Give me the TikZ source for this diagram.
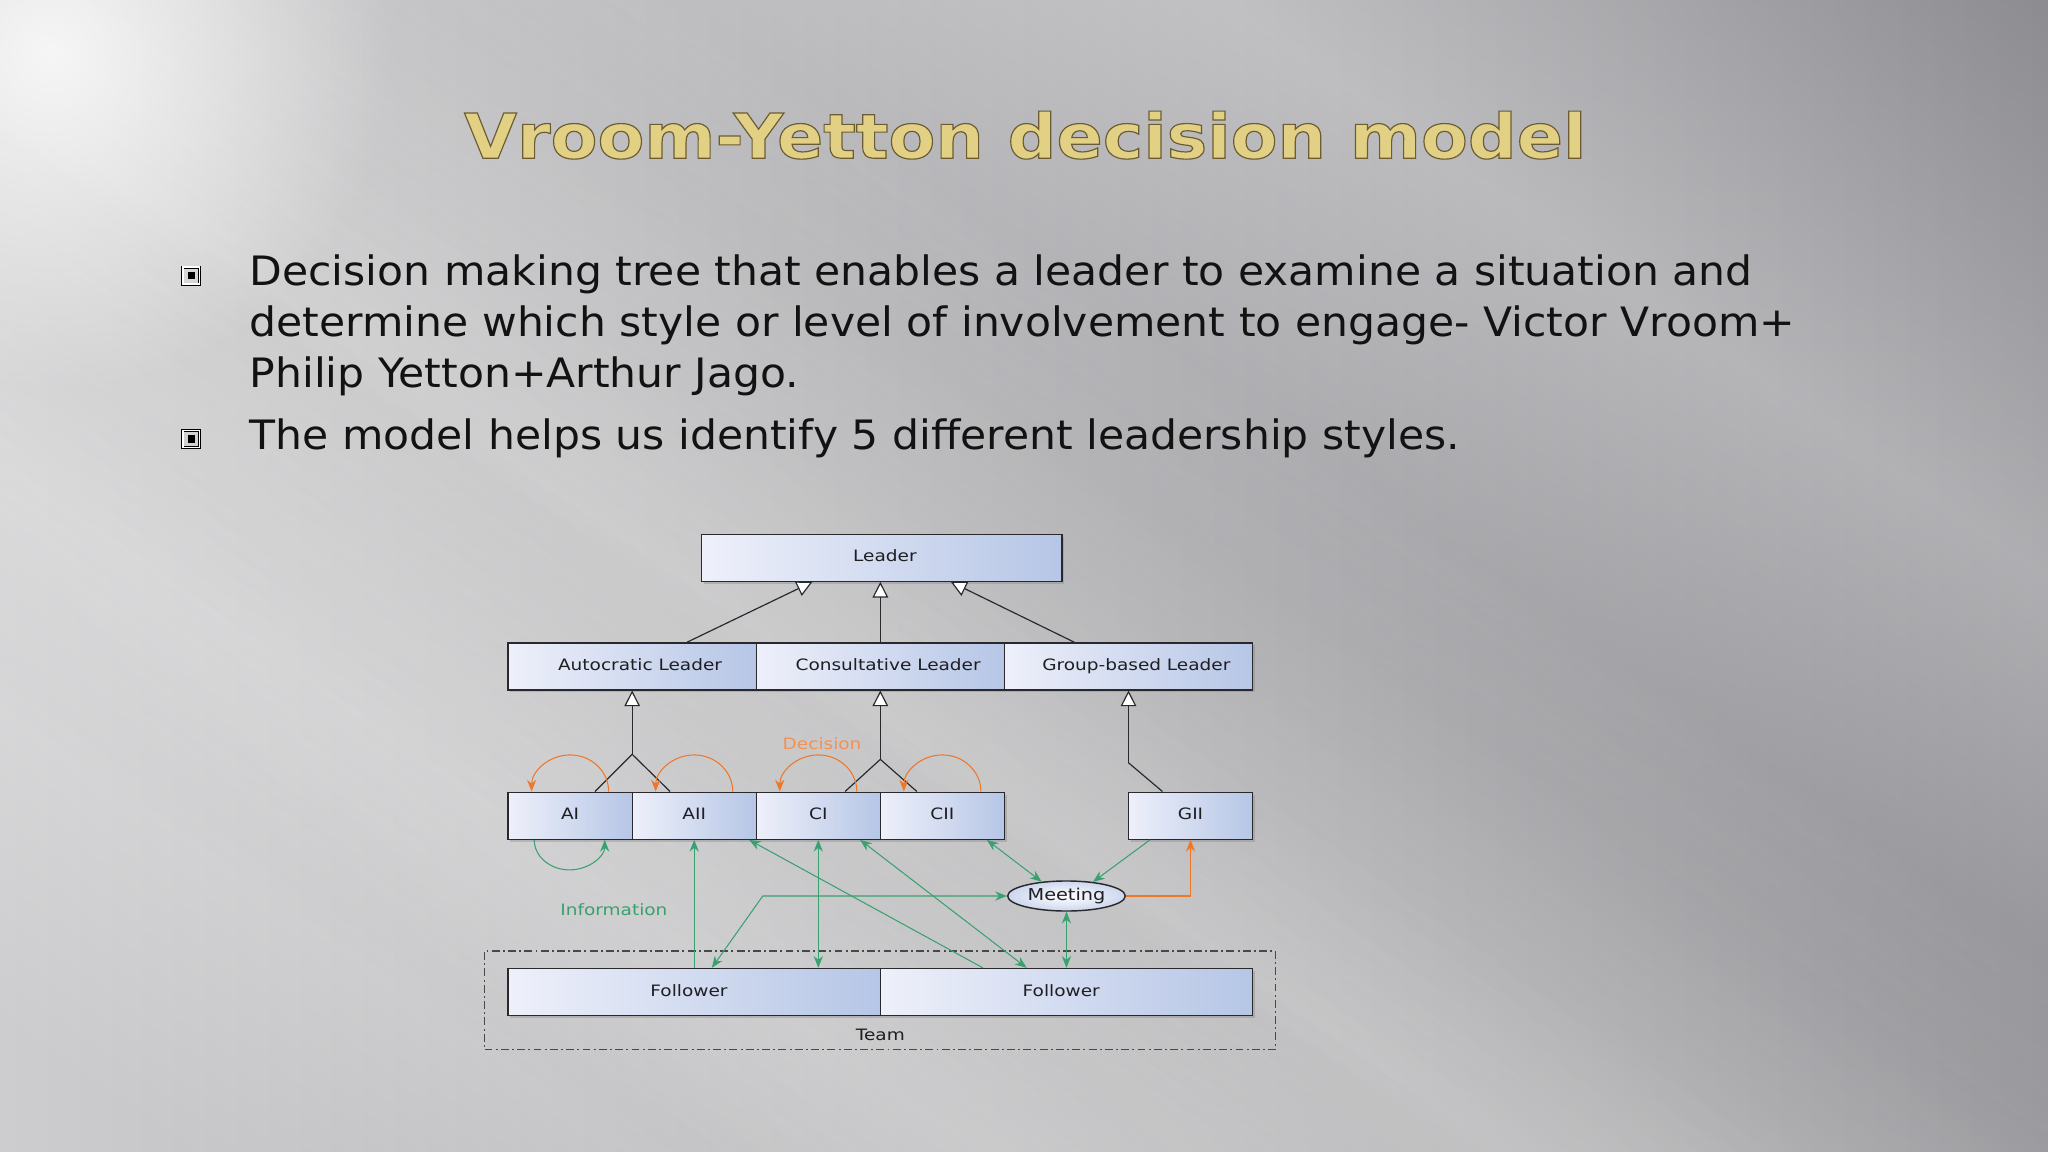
\documentclass[tikz,border=0pt]{standalone}
\usepackage{fontspec}
\setmainfont{DejaVu Sans}
\newfontfamily\titlefont[FakeStretch=1.1]{DejaVu Sans}
\newfontfamily\bulletfont[FakeStretch=1.05]{DejaVu Sans}
\newfontfamily\diagfont[FakeStretch=1.18]{DejaVu Sans}
\usetikzlibrary{arrows.meta,fadings,shapes.geometric,shadows,calc}
\pgfdeclareverticalshading{bandshade}{100bp}{color(0bp)=(black); color(45.5bp)=(black); color(50bp)=(white); color(54.5bp)=(black); color(100bp)=(black)}
\pgfdeclarefading{bandfade}{\pgfuseshading{bandshade}}
\tikzfading[name=glowfade, inner color=transparent!0, outer color=transparent!100]
\definecolor{bgL}{RGB}{205,205,207}
\definecolor{bgR}{RGB}{140,140,145}
\definecolor{boxL}{RGB}{238,240,250}
\definecolor{boxR}{RGB}{182,198,230}
\definecolor{dline}{RGB}{40,40,45}
\definecolor{dtext}{RGB}{30,30,35}
\definecolor{gline}{RGB}{58,160,112}
\definecolor{oline}{RGB}{240,118,40}
\definecolor{gold}{RGB}{226,208,132}
\definecolor{btext}{RGB}{18,18,18}
\begin{document}
\begin{tikzpicture}[x=1pt,y=-1pt,
  box/.style={draw=dline, line width=1pt, left color=boxL, right color=boxR,
    minimum height=36pt, inner sep=0pt, text height=9pt, text depth=2.6pt, text=dtext,
    font=\diagfont\fontsize{12}{14}\selectfont,
    drop shadow={shadow xshift=1.8pt, shadow yshift=-1.8pt, opacity=.35}},
  dlabel/.style={inner sep=0pt, font=\diagfont\fontsize{12}{14}\selectfont},
  hol/.style={draw=dline, line width=.9pt, -{Triangle[fill=white,length=12pt,width=12pt]}},
  dl/.style={draw=dline, line width=.9pt},
  garr/.style={draw=gline, line width=.8pt, -{Stealth[length=9pt,width=7pt]}},
  gboth/.style={draw=gline, line width=.8pt, {Stealth[length=9pt,width=7pt]}-{Stealth[length=9pt,width=7pt]}},
  oarr/.style={draw=oline, line width=.8pt, -{Stealth[length=9pt,width=7pt]}},
  bsq/.style={draw=black, line width=.7pt, double=white, double distance=1pt, minimum size=13pt, inner sep=0pt,
    path picture={\fill[black] ($(path picture bounding box.center)+(-2.8,-2.8)$) rectangle ($(path picture bounding box.center)+(2.8,2.8)$);}},
  btxt/.style={anchor=base west, inner sep=0pt, text=btext, font=\bulletfont\fontsize{31}{37}\selectfont}
]
\useasboundingbox (0,0) rectangle (1568,882);
% ---------- background ----------
\begin{scope}
\clip (0,0) rectangle (1568,882);
\shade[left color=bgL, right color=bgR] (0,0) rectangle (1568,882);
\fill[white, opacity=.55, path fading=bandfade, fading angle=-35] (-1750,-1750) rectangle (2250,2250);
\fill[white, opacity=.35, path fading=bandfade, fading angle=-35] (-1650,-1400) rectangle (2350,2600);
\fill[white, opacity=.3, path fading=bandfade, fading angle=-35] (-850,-1850) rectangle (3150,2150);
\fill[black, opacity=.10, path fading=bandfade, fading angle=-35] (-1150,-1300) rectangle (2850,2700);
\fill[white, opacity=.8, path fading=glowfade] (40,40) circle (260);
\end{scope}
% ---------- title ----------
\node[anchor=base, inner sep=0pt, text=gold, font=\titlefont\bfseries\fontsize{47.5}{56}\selectfont] (title) at (785,121.2)
  {\special{pdf:literal direct 2 Tr 0.9 w 0.42 0.36 0.2 RG}Vroom-Yetton decision model\special{pdf:literal direct 0 Tr}};
% ---------- bullets ----------
\node[bsq] (bq1) at (146.5,211) {};
\node[bsq] (bq2) at (146.5,336) {};
\node[btxt] (b1) at (191,218.7) {Decision making tree that enables a leader to examine a situation and};
\node[btxt] (b2) at (191,257.8) {determine which style or level of involvement to engage- Victor Vroom+};
\node[btxt] (b3) at (191,296.5) {Philip Yetton+Arthur Jago.};
\node[btxt] (b4) at (191,344.5) {The model helps us identify 5 different leadership styles.};
% ---------- diagram ----------
\node[draw=dline!85, line width=1pt, dash pattern=on 6pt off 2.5pt on 1.5pt off 2.5pt, minimum width=605.5pt, minimum height=75.5pt, inner sep=0pt] (team) at (673.75,765.75) {};
\node[dlabel, text=dtext] (teamlbl) at (674,792) {Team};

\node[box, minimum width=276pt] (leader) at (675,427) {\hspace*{5pt}Leader};
\node[box, minimum width=190pt] (auto) at (484,510.2) {\hspace*{12pt}Autocratic Leader};
\node[box, minimum width=190pt] (cons) at (674,510.2) {\hspace*{12pt}Consultative Leader};
\node[box, minimum width=190pt] (group) at (864,510.2) {\hspace*{12pt}Group-based Leader};

\node[box, minimum width=95pt] (ai) at (436.5,624.5) {AI};
\node[box, minimum width=95pt] (aii) at (531.5,624.5) {AII};
\node[box, minimum width=95pt] (ci) at (626.5,624.5) {CI};
\node[box, minimum width=95pt] (cii) at (721.5,624.5) {CII};
\node[box, minimum width=95pt] (gii) at (911.5,624.5) {GII};

\node[box, minimum width=285pt] (f1) at (531.5,759.5) {Follower\hspace*{8pt}};
\node[box, minimum width=285pt] (f2) at (816.5,759.5) {Follower\hspace*{8pt}};

\node[ellipse, draw=dline, line width=1.1pt, inner sep=0pt, minimum width=90pt, minimum height=23pt,
  text height=9pt, text depth=2.6pt,
  inner color=white, outer color=boxR!70, text=dtext, font=\diagfont\fontsize{12.5}{14}\selectfont] (meet) at (816.5,686) {Meeting};

\node[dlabel, text=oline!80] (dec) at (629.4,569) {Decision};
\node[dlabel, text=gline] (info) at (470,696.7) {Information};

% hierarchy arrows
\draw[hol] ($(auto.north)+(42,0)$) -- ($(leader.south)+(-53,0)$);
\draw[hol] (cons.north) -- (cons.north |- leader.south);
\draw[hol] ($(group.north)+(-41.5,0)$) -- ($(leader.south)+(53,0)$);

\coordinate (jA) at (484,577.5);
\coordinate (jC) at (674,581.4);
\coordinate (jG) at (864,584);
\draw[dl] ($(ai.north)+(19,0)$) -- (jA);
\draw[dl] ($(aii.north)+(-18.5,0)$) -- (jA);
\draw[hol] (jA) -- (auto.south);
\draw[dl] ($(ci.north)+(20.5,0)$) -- (jC);
\draw[dl] ($(cii.north)+(-19.5,0)$) -- (jC);
\draw[hol] (jC) -- (cons.south);
\draw[dl] ($(gii.north)+(-21.5,0)$) -- (jG);
\draw[hol] (jG) -- (group.south);

% decision loops (orange)
\draw[oarr] ($(ai.north)+(29.5,0)$) arc[start angle=0, end angle=-180, x radius=29.5, y radius=28];
\draw[oarr] ($(aii.north)+(29.5,0)$) arc[start angle=0, end angle=-180, x radius=29.5, y radius=28];
\draw[oarr] ($(ci.north)+(29.5,0)$) arc[start angle=0, end angle=-180, x radius=29.5, y radius=28];
\draw[oarr] ($(cii.north)+(29.5,0)$) arc[start angle=0, end angle=-180, x radius=29.5, y radius=28];

% information arrows (green)
\draw[garr] ($(ai.south)+(-27.5,0)$) arc[start angle=180, end angle=0, x radius=27, y radius=23];
\draw[garr] (f1.north -| aii.south) -- (aii.south);
\draw[gboth] (ci.south) -- (f1.north -| ci.south);
\draw[garr] ($(f2.north)+(-64,0)$) -- ($(aii.south east)+(-6,0)$);
\draw[gboth] ($(ci.south)+(32,0)$) -- ($(f2.north)+(-30.5,0)$);
\draw[gboth] ($(cii.south)+(34,0)$) -- (meet.150);
\draw[garr] ($(gii.south)+(-31,0)$) -- (meet.28);
\draw[gboth] (meet.south) -- (f2.north);
\coordinate (kI) at (584,686);
\draw[gboth] ($(f1.north)+(13.5,0)$) -- (kI) -- (meet.west);
\draw[oarr] (meet.east) -| (gii.south);
\end{tikzpicture}
\end{document}
